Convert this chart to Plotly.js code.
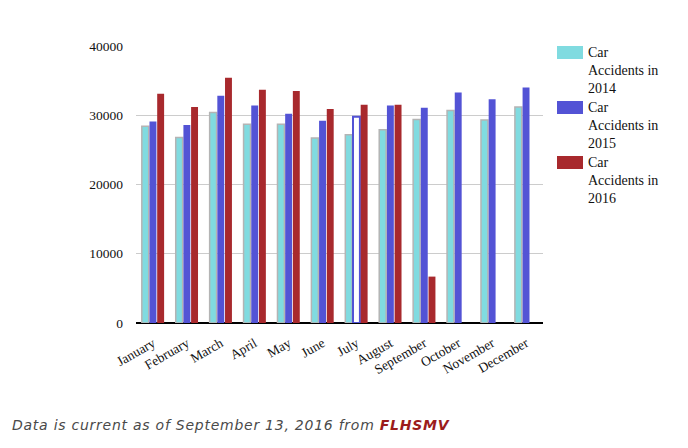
<!DOCTYPE html>
<html>
<head>
<meta charset="utf-8">
<script src="https://cdn.plot.ly/plotly-3.0.1.min.js"></script>
<style>html,body{margin:0;padding:0;background:#fff;}#chart{width:688px;height:448px;}</style>
</head>
<body>
<div id="chart"></div>
<script>
const months = ["January","February","March","April","May","June","July","August","September","October","November","December"];
const seriesNames = ["Car Accidents in 2014","Car Accidents in 2015","Car Accidents in 2016"];
const legendLabels = ["Car<br>Accidents in<br>2014","Car<br>Accidents in<br>2015","Car<br>Accidents in<br>2016"];
const acc2014 = [28400, 26800, 30400, 28700, 28700, 26700, 27200, 27900, 29400, 30700, 29300, 31200];
const acc2015 = [29100, 28600, 32800, 31400, 30200, 29200, 29800, 31400, 31100, 33300, 32300, 34000];
const acc2016 = [33100, 31200, 35400, 33700, 33500, 30900, 31500, 31500, 6700];
const yTicks = [0, 10000, 20000, 30000, 40000];
const footerText = "Data is current as of September 13, 2016 from ";
const footerSource = "FLHSMV";

const colors = ["#80dbe0", "#5353d5", "#a8292d"];
const highlightedIndex = 6; // July 2015 drawn hollow in reference

const traces = [
  {type:"bar", name:seriesNames[0], x:months, y:acc2014,
   marker:{color:colors[0], line:{color:"#b4b4b4", width:1.5}}},
  {type:"bar", name:seriesNames[1], x:months, y:acc2015,
   marker:{color:acc2015.map((v,i)=> i===highlightedIndex ? "#ffffff" : colors[1]),
           line:{color:colors[1], width:acc2015.map((v,i)=> i===highlightedIndex ? 2 : 0)}}},
  {type:"bar", name:seriesNames[2], x:months.slice(0, acc2016.length), y:acc2016,
   marker:{color:colors[2]}}
];

const L = 136, R = 543, T = 46, B = 323;
const pw = R - L, ph = B - T;
const px = v => (v - L) / pw;
const py = v => (B - v) / ph;

const shapes = [];
const annotations = [];
seriesNames.forEach((n, i) => {
  const top = 46 + i * 55;
  shapes.push({type:"rect", xref:"paper", yref:"paper",
    x0:px(557), x1:px(583), y0:py(top), y1:py(top+13),
    fillcolor:colors[i], line:{width:0}});
  annotations.push({xref:"paper", yref:"paper", x:px(586), y:py(top-3),
    xanchor:"left", yanchor:"top", align:"left", showarrow:false,
    text:legendLabels[i], font:{family:"Liberation Serif, Times New Roman, serif", size:14, color:"#111"}});
});
annotations.push({xref:"paper", yref:"paper", x:px(10), y:py(425),
  xanchor:"left", yanchor:"middle", showarrow:false,
  text:"<span style='letter-spacing:0.75px'><i>" + footerText + "</i><b><i><span style='color:#9b1c1c'>" + footerSource + "</span></i></b></span>",
  font:{family:"DejaVu Sans, sans-serif", size:14, color:"#4a4a4a"}});

const layout = {
  width:688, height:448,
  margin:{l:L, r:688-R, t:T, b:448-B, pad:0},
  paper_bgcolor:"#fff", plot_bgcolor:"#fff",
  showlegend:false,
  barmode:"group", bargap:0.32, bargroupgap:0.1,
  font:{family:"Liberation Serif, Times New Roman, serif", size:13, color:"#111"},
  xaxis:{tickangle:-30, showgrid:false, showline:false, ticks:"", automargin:false,
         ticklabelstandoff:9, tickfont:{size:13.5}},
  yaxis:{range:[0, 40000], tickvals:yTicks, ticktext:yTicks.map(String),
         showgrid:true, gridcolor:"#cccccc", gridwidth:1,
         zeroline:true, zerolinecolor:"#000", zerolinewidth:2,
         showline:false, ticks:"", ticklabelstandoff:12, automargin:false,
         tickfont:{size:13.5}},
  shapes:shapes, annotations:annotations
};

Plotly.newPlot("chart", traces, layout, {displayModeBar:false, staticPlot:true});
</script>
</body>
</html>
